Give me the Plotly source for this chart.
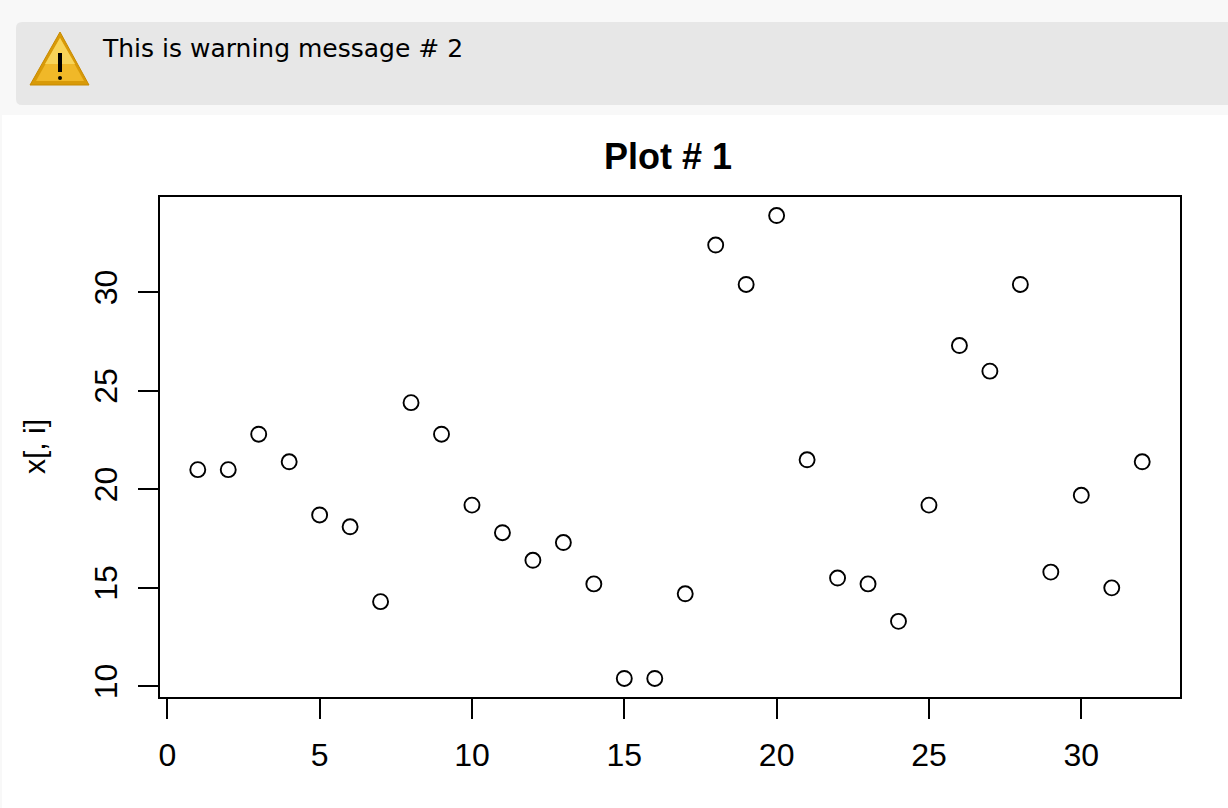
import plotly.graph_objects as go

index = list(range(1, 33))
mpg = [21.0, 21.0, 22.8, 21.4, 18.7, 18.1, 14.3, 24.4, 22.8, 19.2, 17.8, 16.4,
       17.3, 15.2, 10.4, 10.4, 14.7, 32.4, 30.4, 33.9, 21.5, 15.5, 15.2, 13.3,
       19.2, 27.3, 26.0, 30.4, 15.8, 19.7, 15.0, 21.4]
x_ticks = [0, 5, 10, 15, 20, 25, 30]
y_ticks = [10, 15, 20, 25, 30]
title_text = "Plot # 1"
y_label = "x[, i]"
warning_text = "This is warning message # 2"

W, H = 1228, 808
L, R, T, B = 160, 1180, 197, 697


def px(x):
    return (x - L) / (R - L)


def py(y):
    return (B - y) / (B - T)


fig = go.Figure()
fig.add_trace(go.Scatter(
    x=index, y=mpg, mode="markers",
    marker=dict(symbol="circle-open", size=15, color="black", line=dict(width=1.9)),
    hoverinfo="x+y", showlegend=False,
))

xr = [1 - 0.04 * 31, 32 + 0.04 * 31]
yr = [min(mpg) - 0.04 * (max(mpg) - min(mpg)), max(mpg) + 0.04 * (max(mpg) - min(mpg))]

axis_common = dict(
    showgrid=False, zeroline=False, showline=True, linecolor="black", linewidth=1.8,
    mirror=True, ticks="outside", ticklen=20, tickwidth=1.8, tickcolor="black",
    tickfont=dict(family="Liberation Sans, Arial, sans-serif", size=32, color="black"),
)

fig.update_xaxes(range=xr, tickmode="array", tickvals=x_ticks, ticklabelstandoff=9, **axis_common)
fig.update_yaxes(range=yr, tickmode="array", tickvals=y_ticks, tickangle=-90,
                 ticklabelstandoff=8, **axis_common)

r = 6
bx0, bx1, by0, by1 = 16, 1240, 22, 105
banner_path = (
    f"M {px(bx0 + r)},{py(by0)} L {px(bx1 - r)},{py(by0)} "
    f"Q {px(bx1)},{py(by0)} {px(bx1)},{py(by0 + r)} L {px(bx1)},{py(by1 - r)} "
    f"Q {px(bx1)},{py(by1)} {px(bx1 - r)},{py(by1)} L {px(bx0 + r)},{py(by1)} "
    f"Q {px(bx0)},{py(by1)} {px(bx0)},{py(by1 - r)} L {px(bx0)},{py(by0 + r)} "
    f"Q {px(bx0)},{py(by0)} {px(bx0 + r)},{py(by0)} Z"
)

shapes = [
    dict(type="rect", xref="paper", yref="paper", x0=px(0), x1=px(W), y0=py(115), y1=py(0),
         fillcolor="#f8f8f8", line=dict(width=0), layer="below"),
    dict(type="rect", xref="paper", yref="paper", x0=px(0), x1=px(2), y0=py(H), y1=py(0),
         fillcolor="#f8f8f8", line=dict(width=0), layer="below"),
    dict(type="path", xref="paper", yref="paper", path=banner_path,
         fillcolor="#e7e7e7", line=dict(width=0), layer="below"),
    dict(type="path", xref="paper", yref="paper",
         path="M {},{} L {},{} L {},{} Z".format(px(60), py(32), px(30), py(85), px(89), py(85)),
         fillcolor="#d89a08", line=dict(color="#c88a00", width=1)),
    dict(type="path", xref="paper", yref="paper",
         path="M {},{} L {},{} L {},{} Z".format(px(60), py(38), px(36), py(81), px(84), py(81)),
         fillcolor="#f0b828", line=dict(width=0)),
    dict(type="path", xref="paper", yref="paper",
         path="M {},{} L {},{} L {},{} Z".format(px(60), py(38), px(45), py(64), px(75), py(64)),
         fillcolor="#f8d458", line=dict(width=0)),
    dict(type="line", xref="paper", yref="paper", x0=px(60), x1=px(60), y0=py(53), y1=py(72),
         line=dict(color="black", width=4)),
    dict(type="circle", xref="paper", yref="paper", x0=px(58), x1=px(62), y0=py(80), y1=py(76),
         fillcolor="black", line=dict(width=0)),
]

annotations = [
    dict(text=warning_text, xref="paper", yref="paper", x=px(100), y=py(49),
         xanchor="left", yanchor="middle", showarrow=False,
         font=dict(family="DejaVu Sans, sans-serif", size=25, color="black")),
    dict(text="<b>" + title_text + "</b>", xref="paper", yref="paper", x=px(668), y=py(157),
         xanchor="center", yanchor="middle", showarrow=False,
         font=dict(family="Liberation Sans, Arial, sans-serif", size=36, color="black")),
    dict(text=y_label, xref="paper", yref="paper", x=px(34), y=py(447),
         xanchor="center", yanchor="middle", showarrow=False, textangle=-90,
         font=dict(family="Liberation Sans, Arial, sans-serif", size=30, color="black")),
]

fig.update_layout(
    width=W, height=H,
    margin=dict(l=L, r=W - R, t=T, b=H - B, pad=0, autoexpand=False),
    paper_bgcolor="white", plot_bgcolor="white",
    shapes=shapes, annotations=annotations,
)

fig.write_html("out.html", config={"displayModeBar": False},
               post_script="document.body.style.margin='0px';")
